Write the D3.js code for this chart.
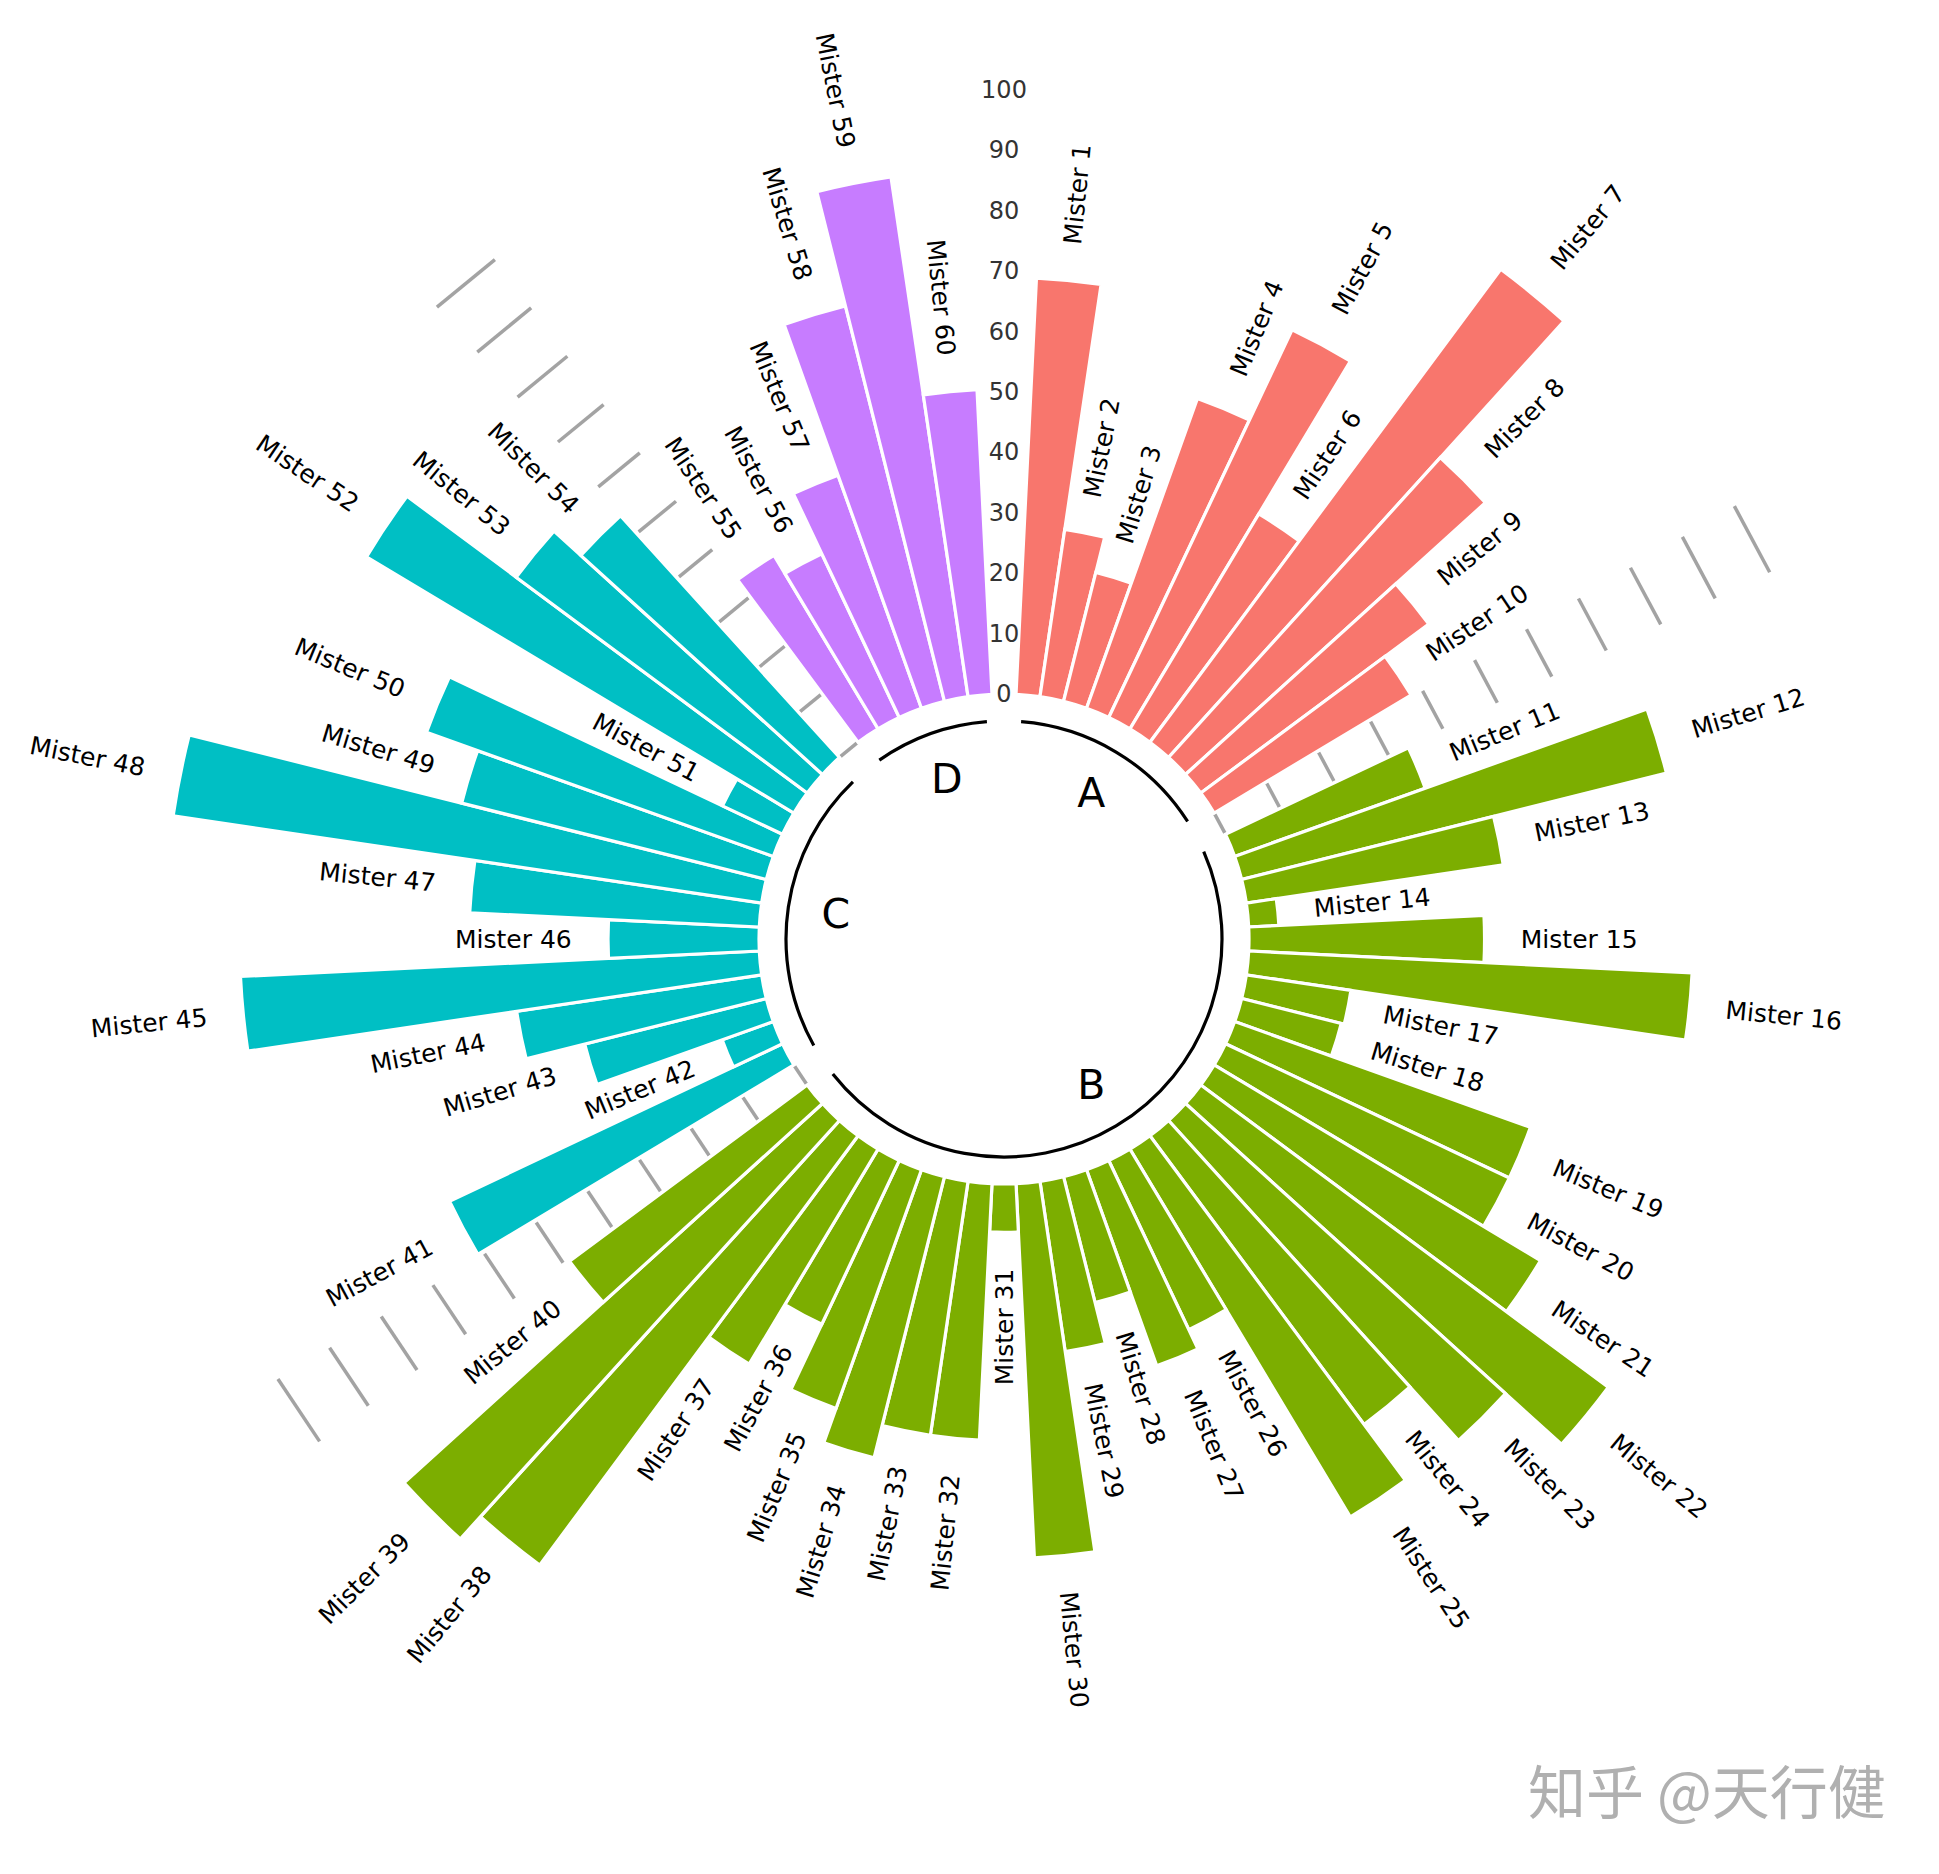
<!DOCTYPE html>
<html>
<head>
<meta charset="utf-8">
<script src="https://cdn.jsdelivr.net/npm/d3@7"></script>
<style>
  html, body { margin: 0; padding: 0; background: #fff; }
  svg { display: block; }
</style>
</head>
<body>
<div id="chart"></div>
<script>
/* groups, in drawing order */
const groupNames  = ["A", "B", "C", "D"];
const groupSizes  = [10, 30, 14, 6];
const groupColors = ["#F8766D", "#7CAE00", "#00BFC4", "#C77CFF"];

/* bar values, Mister 1 .. Mister 60 */
const valuesA = [69, 28, 22, 54.5, 71, 41.5, 97.5, 67, 47, 38];
const valuesB = [33.5, 72.5, 43, 5, 39, 73.5, 17.5, 17, 52, 52,
                 63, 84, 71.5, 59.5, 71, 31, 34.5, 21.5, 28.5, 62,
                 8, 42.5, 42.5, 48, 42, 30, 41.5, 88.5, 93.5, 49];
const valuesC = [61, 9, 31, 41, 86, 25, 48, 98.5, 52, 61, 11, 82.5, 60, 54];
const valuesD = [33.5, 30, 41, 67.5, 87, 50.5];

/* reference levels */
const tickValues = [0, 10, 20, 30, 40, 50, 60, 70, 80, 90, 100];

const watermark = "知乎 @天行健";

const width  = 1939,
      height = 1874,
      cx = 1004,
      cy = 939;

const allValues = [valuesA, valuesB, valuesC, valuesD];

/* one empty slot after every group */
const nSlots = d3.sum(groupSizes) + groupNames.length;
const step   = 2 * Math.PI / nSlots;

const bars = [];
const groups = [];
const gaps = [];
let slot = 1, idx = 1;
groupNames.forEach((g, gi) => {
  const first = slot;
  allValues[gi].forEach(v => {
    bars.push({ name: `Mister ${idx++}`, value: v, group: g, color: groupColors[gi], angle: slot * step });
    slot++;
  });
  groups.push({ name: g, start: first * step, end: (slot - 1) * step });
  if (gi < groupNames.length - 1) gaps.push(slot * step);
  slot++;
});

/* radial scale: value -> radius */
const r = d3.scaleLinear().domain([0, 100]).range([245, 849]);

const svg = d3.select("#chart").append("svg")
  .attr("width", width)
  .attr("height", height);

const g = svg.append("g").attr("transform", `translate(${cx},${cy})`);

const polar = (a, rad) => [rad * Math.sin(a), -rad * Math.cos(a)];

/* grey reference segments inside the gaps */
const segHalf = step * 0.45;
g.append("g")
  .selectAll("line")
  .data(gaps.flatMap(a => tickValues.map(v => ({ a, v }))))
  .join("line")
    .attr("x1", d => polar(d.a - segHalf, r(d.v))[0])
    .attr("y1", d => polar(d.a - segHalf, r(d.v))[1])
    .attr("x2", d => polar(d.a + segHalf, r(d.v))[0])
    .attr("y2", d => polar(d.a + segHalf, r(d.v))[1])
    .attr("stroke", "#a3a3a3")
    .attr("stroke-width", 3.5);

/* bars */
const arc = d3.arc()
  .innerRadius(r(0))
  .outerRadius(d => r(d.value))
  .startAngle(d => d.angle - step / 2)
  .endAngle(d => d.angle + step / 2);

g.append("g")
  .selectAll("path")
  .data(bars)
  .join("path")
    .attr("d", arc)
    .attr("fill", d => d.color)
    .attr("stroke", "#fff")
    .attr("stroke-width", 3.2);

/* bar labels */
g.append("g")
  .attr("font-family", "DejaVu Sans")
  .attr("font-size", 25)
  .selectAll("text")
  .data(bars)
  .join("text")
    .attr("transform", d => {
      const deg = d.angle * 180 / Math.PI;
      const [x, y] = polar(d.angle, r(d.value + 6));
      const rot = deg < 180 ? deg - 90 : deg + 90;
      return `translate(${x},${y}) rotate(${rot})`;
    })
    .attr("text-anchor", d => d.angle * 180 / Math.PI < 180 ? "start" : "end")
    .attr("dominant-baseline", "central")
    .attr("fill", "#000")
    .text(d => d.name);

/* value ticks at the top */
g.append("g")
  .attr("font-family", "DejaVu Sans")
  .attr("font-size", 24)
  .attr("fill", "#333")
  .selectAll("text")
  .data(tickValues)
  .join("text")
    .attr("x", 0)
    .attr("y", d => -r(d))
    .attr("text-anchor", "middle")
    .attr("dominant-baseline", "central")
    .text(d => d);

/* group base lines and letters */
const baseR = 218;
const baseArc = d3.arc()
  .innerRadius(baseR)
  .outerRadius(baseR)
  .startAngle(d => d.start - step * 0.2)
  .endAngle(d => d.end + step * 0.2);

g.append("g")
  .selectAll("path")
  .data(groups)
  .join("path")
    .attr("d", baseArc)
    .attr("fill", "none")
    .attr("stroke", "#000")
    .attr("stroke-width", 3.2);

g.append("g")
  .attr("font-family", "DejaVu Sans")
  .attr("font-size", 41)
  .selectAll("text")
  .data(groups)
  .join("text")
    .attr("x", d => polar((d.start + d.end) / 2, 170)[0])
    .attr("y", d => polar((d.start + d.end) / 2, 170)[1])
    .attr("text-anchor", "middle")
    .attr("dominant-baseline", "central")
    .attr("fill", "#000")
    .text(d => d.name);

/* watermark */
svg.append("text")
  .attr("x", 1528)
  .attr("y", 1814)
  .attr("font-family", "Noto Sans CJK SC")
  .attr("font-size", 58)
  .attr("fill", "#b0b0b0")
  .text(watermark);
</script>
</body>
</html>
